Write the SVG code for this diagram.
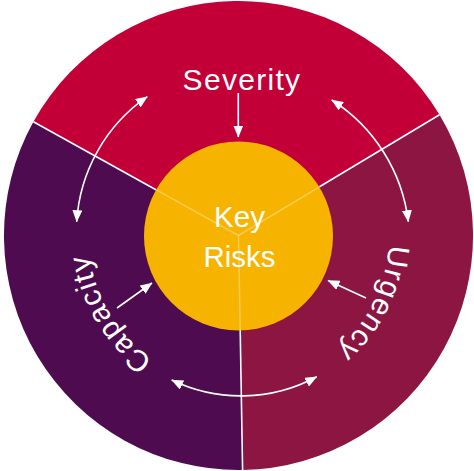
<svg xmlns="http://www.w3.org/2000/svg" width="474" height="471" viewBox="0 0 474 471">
<style>
.lbl { font-family: "Liberation Sans", Arial, sans-serif; fill: #ffffff; font-size: 30px; letter-spacing: 1.3px; }
.core { font-family: "Liberation Sans", Arial, sans-serif; fill: #ffffff; font-size: 29.5px; text-anchor: middle; }
.conn { fill: none; stroke: #ffffff; stroke-width: 1.6; }
.div { stroke: #ffffff; stroke-width: 1.6; }
.faint { stroke: #ffffff; stroke-opacity: 0.3; stroke-width: 1.5; }
</style>
<defs>
<marker id="ah" viewBox="0 0 12 10" refX="11.5" refY="5" markerWidth="12" markerHeight="10" markerUnits="userSpaceOnUse" orient="auto-start-reverse">
<path d="M0,0 L12,5 L0,10 z" fill="#ffffff"/>
</marker>
<path id="ring" d="M238.5,85 A150.5,150.5 0 1 1 238.5,386 A150.5,150.5 0 1 1 238.5,85"/>
</defs>

<g id="severity">
<path d="M238.5,235.5 L33.4,121.8 A234.5,234.5 0 0 1 439.5,114.7 Z" fill="#C20037"/>
<text class="lbl" x="242" y="89.5" text-anchor="middle">Severity</text>
</g>

<g id="urgency">
<path d="M238.5,235.5 L439.5,114.7 A234.5,234.5 0 0 1 242.6,470 Z" fill="#8C1541"/>
<text class="lbl"><textPath href="#ring" startOffset="306" text-anchor="middle">Urgency</textPath></text>
</g>

<g id="capacity">
<path d="M238.5,235.5 L242.6,470 A234.5,234.5 0 0 1 33.4,121.8 Z" fill="#4F0B4F"/>
<text class="lbl"><textPath href="#ring" startOffset="627" text-anchor="middle">Capacity</textPath></text>
</g>

<g id="dividers">
<line class="div" x1="155.9" y1="189.7" x2="33.4" y2="121.8"/>
<line class="div" x1="319.5" y1="186.8" x2="439.5" y2="114.7"/>
<line class="div" x1="240.2" y1="330" x2="242.6" y2="470"/>
</g>

<g id="key-risks">
<circle cx="238.5" cy="236" r="94.5" fill="#F6B401"/>
<line class="faint" x1="238.5" y1="235.5" x2="155.9" y2="189.7"/>
<line class="faint" x1="238.5" y1="235.5" x2="319.5" y2="186.8"/>
<line class="faint" x1="238.5" y1="235.5" x2="240.2" y2="330"/>
<text class="core" x="239.5" y="226.5">Key</text>
<text class="core" x="239.5" y="266.5">Risks</text>
</g>

<g id="connectors">
<path class="conn" d="M238.3,93 L238.3,137" marker-end="url(#ah)"/>
<path class="conn" d="M366,298 L328,280.5" marker-end="url(#ah)"/>
<path class="conn" d="M117,308 L152,283" marker-end="url(#ah)"/>
<path class="conn" d="M76.7,221.7 A164,164 0 0 1 147.3,96.7" marker-start="url(#ah)" marker-end="url(#ah)"/>
<path class="conn" d="M331.7,100 A168,168 0 0 1 408.3,221.7" marker-start="url(#ah)" marker-end="url(#ah)"/>
<path class="conn" d="M316.7,376.7 A159,159 0 0 1 171.7,380" marker-start="url(#ah)" marker-end="url(#ah)"/>
</g>
</svg>
